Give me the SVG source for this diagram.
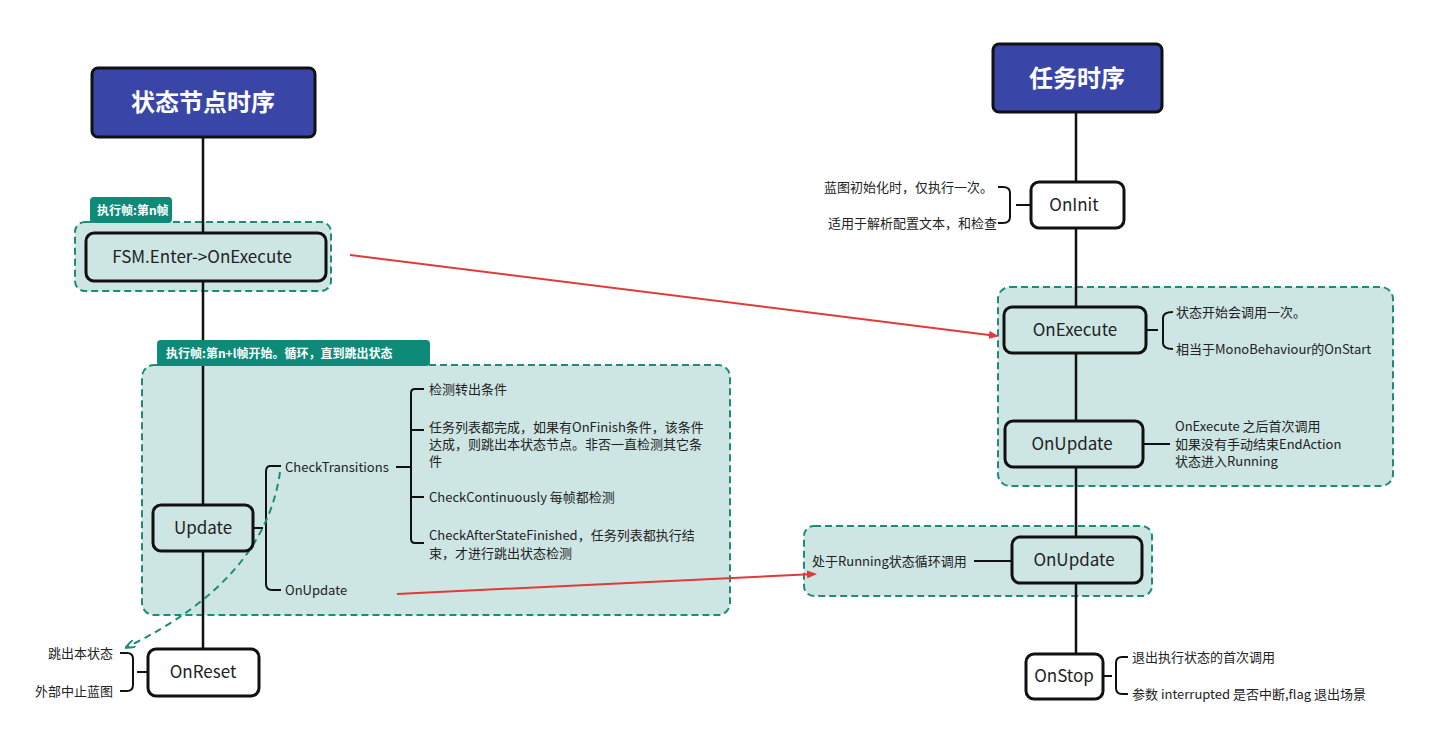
<svg xmlns="http://www.w3.org/2000/svg" width="1440" height="748" viewBox="0 0 1440 748">
<style>
text{font-family:"Noto Sans CJK SC","Noto Sans",sans-serif;fill:#222}
.title{fill:#3946a8;stroke:#111;stroke-width:3}
.tt{fill:#fff;font-size:24px;font-weight:bold;text-anchor:middle}
.nd{fill:#fff;stroke:#111;stroke-width:3}
.ndg{fill:#cde6e4;stroke:#111;stroke-width:3}
.nt{font-size:17px;text-anchor:middle}
.sm{font-size:13px}
.grp{fill:#cde6e4;stroke:#1e8a78;stroke-width:2;stroke-dasharray:7 4}
.tab{fill:#0e8a78}
.tabt{fill:#fff;font-size:12px;font-weight:bold}
.ln{stroke:#111;stroke-width:2.5;fill:none}
.br{stroke:#111;stroke-width:2;fill:none}
.red{stroke:#e03a3a;fill:none}
</style>
<defs>
<marker id="ar" markerWidth="10" markerHeight="8" refX="8" refY="4" orient="auto" markerUnits="userSpaceOnUse"><path d="M0,0 L10,4 L0,8 z" fill="#e03a3a"/></marker>
<marker id="ag" markerWidth="10" markerHeight="8" refX="8" refY="4" orient="auto" markerUnits="userSpaceOnUse"><path d="M0,0 L10,4 L0,8" fill="none" stroke="#1e8a78" stroke-width="2"/></marker>
</defs>
<g id="groups">
<rect class="grp" x="75" y="222" width="256" height="69" rx="10"/>
<rect class="grp" x="142" y="365" width="588" height="250" rx="12"/>
<rect class="grp" x="998" y="287" width="395" height="199" rx="12"/>
<rect class="grp" x="804" y="526" width="348" height="70" rx="10"/>
</g>
<g id="connectors">
<line class="ln" x1="203" y1="137" x2="203" y2="650"/>
<line class="ln" x1="1076" y1="112" x2="1076" y2="655"/>
<path class="br" d="M253,528 H263 M274,466 H270 Q266,466 266,472 V584 Q266,590 272,590 H281 M274,466 H281"/>
<path class="br" d="M396,467 H411 M420,389 H415 Q411,389 411,393 V539 Q411,543 415,543 H424 M420,389 H424 M411,430 H424 M411,497 H424"/>
<path class="br" d="M148,672 H137 M127,653 Q133,653 133,659 V685 Q133,691 127,691 M120,653 H127 M120,691 H127"/>
<path class="br" d="M1031,205 H1016 M1003,187 Q1010,187 1010,193 V217 Q1010,223 1003,223 M998,187 H1003 M998,223 H1003"/>
<path class="br" d="M1146,330 H1158 M1173,312 Q1163,312 1163,318 V343 Q1163,349 1173,349"/>
<path class="br" d="M1143,444 H1170"/>
<path class="br" d="M974,561 H1012"/>
<path class="br" d="M1103,676 H1112 M1122,657 Q1116,657 1116,663 V688 Q1116,694 1122,694 H1128 M1122,657 H1128"/>
<path d="M280,472 Q265,580 127,647" fill="none" stroke="#1e8a78" stroke-width="2" stroke-dasharray="7 5" marker-end="url(#ag)"/>
<path class="red" d="M350,255 L997,336" stroke-width="2" marker-end="url(#ar)"/>
<path class="red" d="M397,594 L815,574" stroke-width="2" marker-end="url(#ar)"/>
</g>
<g id="tabs">
<rect class="tab" x="90" y="197" width="82" height="26" rx="4"/>
<text class="tabt" x="97" y="215">执行帧:第n帧</text>
<rect class="tab" x="157" y="340" width="273" height="26" rx="4"/>
<text class="tabt" x="166" y="358">执行帧:第n+l帧开始。循环，直到跳出状态</text>
</g>
<g id="title-left"><rect class="title" x="92" y="68" width="223" height="69" rx="6"/><text class="tt" x="203" y="111">状态节点时序</text></g>
<g id="title-right"><rect class="title" x="993" y="44" width="169" height="68" rx="6"/><text class="tt" x="1077" y="87">任务时序</text></g>
<g id="fsm"><rect class="ndg" x="86" y="233" width="240" height="48" rx="8"/><text class="nt" x="202" y="263">FSM.Enter-&gt;OnExecute</text></g>
<g id="update"><rect class="ndg" x="153" y="505" width="100" height="46" rx="8"/><text class="nt" x="203" y="534">Update</text></g>
<g id="checktrans"><text class="sm" x="285" y="472">CheckTransitions</text>
<text class="sm" x="429" y="394">检测转出条件</text>
<text class="sm" x="429" y="432">任务列表都完成，如果有OnFinish条件，该条件</text>
<text class="sm" x="429" y="449">达成，则跳出本状态节点。非否一直检测其它条</text>
<text class="sm" x="429" y="466">件</text>
<text class="sm" x="429" y="502">CheckContinuously 每帧都检测</text>
<text class="sm" x="429" y="540">CheckAfterStateFinished，任务列表都执行结</text>
<text class="sm" x="429" y="558">束，才进行跳出状态检测</text></g>
<g id="onupdate-left"><text class="sm" x="285" y="595">OnUpdate</text></g>
<g id="onreset"><rect class="nd" x="148" y="649" width="111" height="47" rx="8"/><text class="nt" x="203" y="678">OnReset</text>
<text class="sm" x="48" y="658">跳出本状态</text><text class="sm" x="35" y="696">外部中止蓝图</text></g>
<g id="oninit"><rect class="nd" x="1031" y="182" width="93" height="46" rx="8"/><text class="nt" x="1074" y="211">OnInit</text>
<text class="sm" x="993" y="192" text-anchor="end">蓝图初始化时，仅执行一次。</text>
<text class="sm" x="997" y="228" text-anchor="end">适用于解析配置文本，和检查</text></g>
<g id="onexecute"><rect class="ndg" x="1004" y="307" width="142" height="46" rx="8"/><text class="nt" x="1075" y="336">OnExecute</text>
<text class="sm" x="1176" y="317">状态开始会调用一次。</text><text class="sm" x="1176" y="354">相当于MonoBehaviour的OnStart</text></g>
<g id="onupdate1"><rect class="ndg" x="1005" y="421" width="138" height="46" rx="8"/><text class="nt" x="1072" y="450">OnUpdate</text>
<text class="sm" x="1175" y="431">OnExecute 之后首次调用</text><text class="sm" x="1175" y="449">如果没有手动结束EndAction</text><text class="sm" x="1175" y="466">状态进入Running</text></g>
<g id="onupdate2"><rect class="ndg" x="1012" y="537" width="130" height="46" rx="8"/><text class="nt" x="1074" y="566">OnUpdate</text>
<text class="sm" x="812" y="566">处于Running状态循环调用</text></g>
<g id="onstop"><rect class="nd" x="1026" y="654" width="77" height="45" rx="8"/><text class="nt" x="1064" y="682">OnStop</text>
<text class="sm" x="1132" y="662">退出执行状态的首次调用</text><text class="sm" x="1132" y="699">参数 interrupted 是否中断,flag 退出场景</text></g>
</svg>
